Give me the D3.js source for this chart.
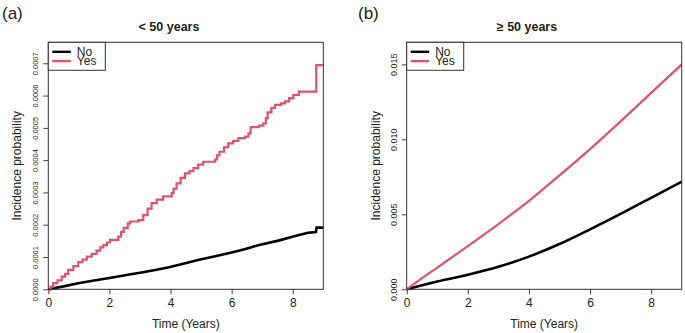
<!DOCTYPE html>
<html>
<head>
<meta charset="utf-8">
<script src="https://cdn.jsdelivr.net/npm/d3@7"></script>
<style>
body { margin: 0; background: #fff; }
text { font-family: "Liberation Sans", Arial, sans-serif; fill: #222; }
</style>
</head>
<body>
<script>
// groups and colours
var groups = ["No", "Yes"];
var colors = {"No": "#000000", "Yes": "#DF536B"};

// panel (a) < 50 years  [time, incidence]
var youngNo = [[0,0],[0.5,0.09e-4],[0.98,0.19e-4],[1.5,0.27e-4],[2.05,0.36e-4],[2.6,0.45e-4],[3.1,0.53e-4],[3.5,0.60e-4],[3.95,0.68e-4],[4.45,0.80e-4],[4.9,0.91e-4],[5.5,1.03e-4],[6.0,1.14e-4],[6.45,1.25e-4],[6.9,1.37e-4],[7.5,1.50e-4],[8.05,1.64e-4],[8.5,1.75e-4],[8.76,1.77e-4],[8.78,1.91e-4],[9.0,1.91e-4]];
var youngYes = [[0,0],[0.08,0.08e-4],[0.16,0.19e-4],[0.3,0.28e-4],[0.44,0.39e-4],[0.55,0.48e-4],[0.65,0.60e-4],[0.82,0.72e-4],[0.98,0.84e-4],[1.12,0.92e-4],[1.26,1.01e-4],[1.42,1.10e-4],[1.58,1.20e-4],[1.70,1.30e-4],[1.80,1.37e-4],[1.92,1.45e-4],[2.02,1.53e-4],[2.29,1.63e-4],[2.38,1.78e-4],[2.47,1.90e-4],[2.60,2.04e-4],[2.67,2.10e-4],[2.95,2.14e-4],[3.11,2.30e-4],[3.25,2.50e-4],[3.38,2.67e-4],[3.55,2.78e-4],[3.76,2.88e-4],[4.04,2.98e-4],[4.10,3.12e-4],[4.20,3.28e-4],[4.33,3.45e-4],[4.47,3.59e-4],[4.62,3.66e-4],[4.75,3.75e-4],[4.90,3.86e-4],[5.07,3.95e-4],[5.46,4.02e-4],[5.52,4.15e-4],[5.60,4.26e-4],[5.75,4.40e-4],[5.89,4.52e-4],[6.05,4.60e-4],[6.22,4.68e-4],[6.44,4.73e-4],[6.55,4.83e-4],[6.62,5.02e-4],[6.90,5.07e-4],[7.04,5.14e-4],[7.12,5.30e-4],[7.18,5.48e-4],[7.30,5.62e-4],[7.42,5.71e-4],[7.62,5.76e-4],[7.75,5.82e-4],[7.88,5.92e-4],[8.02,6.02e-4],[8.20,6.12e-4],[8.76,6.12e-4],[8.77,6.94e-4],[9.0,6.94e-4]];

// panel (b) >= 50 years  [time, incidence]
var oldNo = [[0,0],[0.5,0.00027],[1,0.00052],[2,0.00097],[3,0.0015],[4,0.00218],[5,0.00302],[6,0.004],[7,0.00503],[8,0.0061],[9,0.00718]];
var oldYes = [[0,0],[0.5,0.00074],[1,0.00145],[2,0.00288],[3,0.00435],[4,0.0059],[5,0.0076],[6,0.00935],[7,0.0112],[8,0.0131],[9,0.015]];

var xTicks = [0, 2, 4, 6, 8];

var svg = d3.select("body").append("svg")
    .attr("width", 685)
    .attr("height", 333);

var panels = [
    {tag: "(a)", tagX: 2, title: "< 50 years", titleX: 169, left: 48.3, right: 323.3, yMax: 0.000765,
     yTicks: [0, 0.0001, 0.0002, 0.0003, 0.0004, 0.0005, 0.0006, 0.0007], fmt: ".4f", tickSize: 7.5,
     series: {"No": youngNo, "Yes": youngYes}, curves: {"No": d3.curveLinear, "Yes": d3.curveStepAfter}},
    {tag: "(b)", tagX: 358, title: "\u2265 50 years", titleX: 527, left: 406.7, right: 681.7, yMax: 0.01647,
     yTicks: [0, 0.005, 0.01, 0.015], fmt: ".3f", tickSize: 9,
     series: {"No": oldNo, "Yes": oldYes}, curves: {"No": d3.curveMonotoneX, "Yes": d3.curveMonotoneX}}
];

var plotTop = 42.3, plotBottom = 289.3;

panels.forEach(function (p) {
    var x = d3.scaleLinear().domain([0, 9]).range([p.left, p.right]);
    var y = d3.scaleLinear().domain([0, p.yMax]).range([plotBottom, plotTop]);
    var g = svg.append("g");

    g.append("text").attr("x", p.tagX).attr("y", 19).text(p.tag).style("font-size", "17px");
    g.append("text").attr("x", p.titleX).attr("y", 31).attr("text-anchor", "middle")
        .style("font-weight", "bold").style("font-size", "12.5px").text(p.title);

    // x axis
    var xa = g.append("g").attr("transform", "translate(0," + plotBottom + ")")
        .call(d3.axisBottom(x).tickValues(xTicks).tickSize(5).tickPadding(4).tickFormat(d3.format("d")));
    xa.select(".domain").remove();
    xa.selectAll("line").attr("stroke", "#444");
    xa.selectAll("text").style("font-size", "12px").attr("fill", "#222");

    // y axis with rotated labels
    var ya = g.append("g").attr("transform", "translate(" + p.left + ",0)")
        .call(d3.axisLeft(y).tickValues(p.yTicks).tickSize(5).tickFormat(d3.format(p.fmt)));
    ya.select(".domain").remove();
    ya.selectAll("line").attr("stroke", "#444");
    ya.selectAll("text")
        .attr("x", null).attr("dy", null)
        .attr("transform", "translate(-10,0) rotate(-90)")
        .attr("text-anchor", "middle")
        .style("font-size", p.tickSize + "px").attr("fill", "#333");

    g.append("text").attr("x", (p.left + p.right) / 2).attr("y", 328).attr("text-anchor", "middle")
        .style("font-size", "12px").text("Time (Years)");
    g.append("text").attr("transform", "translate(" + (p.left - 27) + "," + ((plotTop + plotBottom) / 2) + ") rotate(-90)")
        .attr("text-anchor", "middle").style("font-size", "12px").text("Incidence probability");

    groups.forEach(function (k) {
        var line = d3.line()
            .x(function (d) { return x(d[0]); })
            .y(function (d) { return y(d[1]); })
            .curve(p.curves[k]);
        g.append("path").datum(p.series[k])
            .attr("d", line)
            .attr("fill", "none")
            .attr("stroke", colors[k])
            .attr("stroke-width", k === "No" ? 2.6 : 2.2);
    });

    // frame
    g.append("rect").attr("x", p.left).attr("y", plotTop)
        .attr("width", p.right - p.left).attr("height", plotBottom - plotTop)
        .attr("fill", "none").attr("stroke", "#333").attr("stroke-width", 1);

    // legend
    var lg = g.append("g").attr("transform", "translate(" + p.left + "," + plotTop + ")");
    lg.append("rect").attr("width", 57).attr("height", 28)
        .attr("fill", "#fff").attr("stroke", "#333").attr("stroke-width", 1);
    groups.forEach(function (k, i) {
        lg.append("line").attr("x1", 4).attr("x2", 22.5)
            .attr("y1", 9.5 + i * 9.3).attr("y2", 9.5 + i * 9.3)
            .attr("stroke", colors[k]).attr("stroke-width", 2.4);
        lg.append("text").attr("x", 28.5).attr("y", 13.8 + i * 9.3)
            .style("font-size", "12px").text(k);
    });
});
</script>
</body>
</html>
